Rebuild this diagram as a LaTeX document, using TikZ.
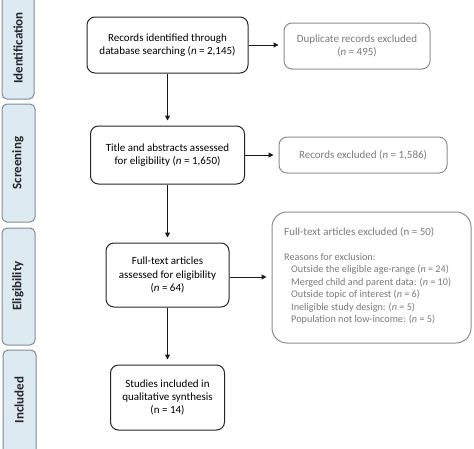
\documentclass[tikz,border=0pt]{standalone}
\usepackage{fontspec}
\setmainfont{Carlito}
\usetikzlibrary{arrows.meta}
\definecolor{barfill}{HTML}{DDEAF2}
\definecolor{barline}{HTML}{7F8C97}
\definecolor{greytext}{HTML}{7A7A7A}
\definecolor{greyline}{HTML}{8C8C8C}
\tikzset{
  phase/.style={draw=barline, fill=barfill, line width=1pt, rounded corners=5pt},
  phaselabel/.style={rotate=90, font=\fontsize{13}{15}\selectfont\bfseries, text=black!85},
  mainbox/.style={draw=black!85, line width=1pt, rounded corners=8pt, align=center,
    font=\fontsize{11}{13.4}\selectfont, inner sep=0pt},
  exbox/.style={draw=greyline, line width=1pt, rounded corners=8pt, align=center,
    font=\fontsize{11}{13.4}\selectfont, text=greytext, inner sep=0pt},
  flow/.style={-{Triangle[length=5pt,width=5pt]}, line width=1pt, black!90, shorten >=5pt}
}
\begin{document}
\begin{tikzpicture}[x=1pt,y=-1pt]
\useasboundingbox (0,0) rectangle (474,448);
\begin{scope}
\clip (0,0) rectangle (474,448);
\draw[phase] (2,-8) rectangle (34,99);
\draw[phase] (2,104) rectangle (35,222);
\draw[phase] (2,228) rectangle (35,345);
\draw[phase] (3,350) rectangle (36,460);
\end{scope}
\node[phaselabel] (l1) at (18,48) {Identification};
\node[phaselabel] (l2) at (18,163) {Screening};
\node[phaselabel] (l3) at (18,286) {Eligibility};
\node[phaselabel] (l4) at (19,400) {Included};

\node[mainbox, minimum width=161pt, minimum height=56pt] (b1) at (167.5,45)
  {Records identified through\\database searching (\textit{n} = 2,145)};
\node[exbox, minimum width=146pt, minimum height=46pt] (d1) at (357,46)
  {Duplicate records excluded\\(\textit{n} = 495)};
\node[mainbox, minimum width=154pt, minimum height=58pt] (b2) at (167.5,155)
  {Title and abstracts assessed\\for eligibility (\textit{n} = 1,650)};
\node[exbox, minimum width=168pt, minimum height=36pt] (d2) at (363,155)
  {Records excluded (\textit{n} = 1,586)};
\node[mainbox, minimum width=123pt, minimum height=64pt] (b3) at (167.5,275)
  {Full-text articles\\assessed for eligibility\\(\textit{n} = 64)};
\node[exbox, rounded corners=15pt, minimum width=199pt, minimum height=131pt] (d3) at (371.5,277.5) {};
\node[text=greytext, anchor=north west, align=left, inner sep=0pt,
  font=\fontsize{10.2}{12.4}\selectfont] (d3t) at (284,227.5)
  {{\fontsize{11}{12.4}\selectfont Full-text articles excluded (n = 50)}\\[12.4pt]
   Reasons for exclusion:\\
   \hspace*{7pt}Outside the eligible age-range (\textit{n} = 24)\\
   \hspace*{7pt}Merged child and parent data: (\textit{n} = 10)\\
   \hspace*{7pt}Outside topic of interest (\textit{n} = 6)\\
   \hspace*{7pt}Ineligible study design: (\textit{n} = 5)\\
   \hspace*{7pt}Population not low-income: (\textit{n} = 5)};
\node[mainbox, minimum width=114pt, minimum height=65pt] (b4) at (167.5,397.5)
  {Studies included in\\qualitative synthesis\\(n = 14)};

\draw[flow] (b1.east) -- (d1.west |- b1.east);
\draw[flow] (b1.south) -- (b2.north);
\draw[flow] (b2.east) -- (d2.west |- b2.east);
\draw[flow] (b2.south) -- (b3.north);
\draw[flow] ([yshift=-2pt]b3.east) -- ([yshift=-2pt]d3.west |- b3.east);
\draw[flow] (b3.south) -- (b4.north);
\end{tikzpicture}
\end{document}
